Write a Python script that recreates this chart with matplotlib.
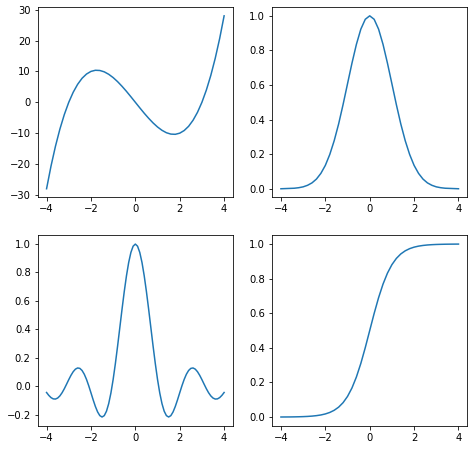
import numpy as np
import matplotlib
matplotlib.use('Agg')
import matplotlib.pyplot as plt

# sample positions, step 0.2 (sinc uses step 0.1)
x = np.linspace(-4, 4, 41)
x_fine = np.linspace(-4, 4, 81)

cubic = [-28.0, -20.67, -14.26, -8.70, -3.97, 0.0, 3.25, 5.82, 7.78, 9.15,
         10.0, 10.37, 10.30, 9.86, 9.07, 8.0, 6.69, 5.18, 3.54, 1.79,
         0.0,
         -1.79, -3.54, -5.18, -6.69, -8.0, -9.07, -9.86, -10.30, -10.37, -10.0,
         -9.15, -7.78, -5.82, -3.25, 0.0, 3.97, 8.70, 14.26, 20.67, 28.0]

gauss = [0.000, 0.001, 0.002, 0.003, 0.006, 0.011, 0.020, 0.034, 0.056, 0.089,
         0.135, 0.198, 0.278, 0.375, 0.487, 0.607, 0.726, 0.835, 0.923, 0.980,
         1.000,
         0.980, 0.923, 0.835, 0.726, 0.607, 0.487, 0.375, 0.278, 0.198, 0.135,
         0.089, 0.056, 0.034, 0.020, 0.011, 0.006, 0.003, 0.002, 0.001, 0.000]

sinc = [-0.0447, -0.0650, -0.0806, -0.0896, -0.0908, -0.0838, -0.0686, -0.0462,
        -0.0182, 0.0134, 0.0458, 0.0762, 0.1017, 0.1197, 0.1280, 0.1251, 0.1102,
        0.0838, 0.0472, 0.0027, -0.0466, -0.0966, -0.1431, -0.1815, -0.2075,
        -0.2172, -0.2075, -0.1764, -0.1229, -0.0478, 0.0470, 0.1583, 0.2814,
        0.4111, 0.5410, 0.6650, 0.7767, 0.8704, 0.9411, 0.9851,
        1.0,
        0.9851, 0.9411, 0.8704, 0.7767, 0.6650, 0.5410, 0.4111, 0.2814, 0.1583,
        0.0470, -0.0478, -0.1229, -0.1764, -0.2075, -0.2172, -0.2075, -0.1815,
        -0.1431, -0.0966, -0.0466, 0.0027, 0.0472, 0.0838, 0.1102, 0.1251,
        0.1280, 0.1197, 0.1017, 0.0762, 0.0458, 0.0134, -0.0182, -0.0462,
        -0.0686, -0.0838, -0.0908, -0.0896, -0.0806, -0.0650, -0.0447]

sigmoid = [0.0003, 0.0005, 0.0007, 0.0011, 0.0017, 0.0025, 0.0037, 0.0055,
           0.0082, 0.0121, 0.0180, 0.0266, 0.0392, 0.0573, 0.0832, 0.1192,
           0.1680, 0.2315, 0.3100, 0.4013,
           0.5,
           0.5987, 0.6900, 0.7685, 0.8320, 0.8808, 0.9168, 0.9427, 0.9608,
           0.9734, 0.9820, 0.9879, 0.9918, 0.9945, 0.9963, 0.9975, 0.9983,
           0.9989, 0.9993, 0.9995, 0.9997]

fig, axs = plt.subplots(2, 2, figsize=(474/72, 449/72), dpi=72)
fig.subplots_adjust(left=0.0795, right=0.986, top=0.984, bottom=0.052,
                    wspace=0.20, hspace=0.20)

axs[0, 0].plot(x, cubic)
axs[0, 1].plot(x, gauss)
axs[1, 0].plot(x_fine, sinc)
axs[1, 1].plot(x, sigmoid)

for ax in axs.flat:
    ax.set_xticks([-4, -2, 0, 2, 4])

fig.savefig('out.png', dpi=72)
